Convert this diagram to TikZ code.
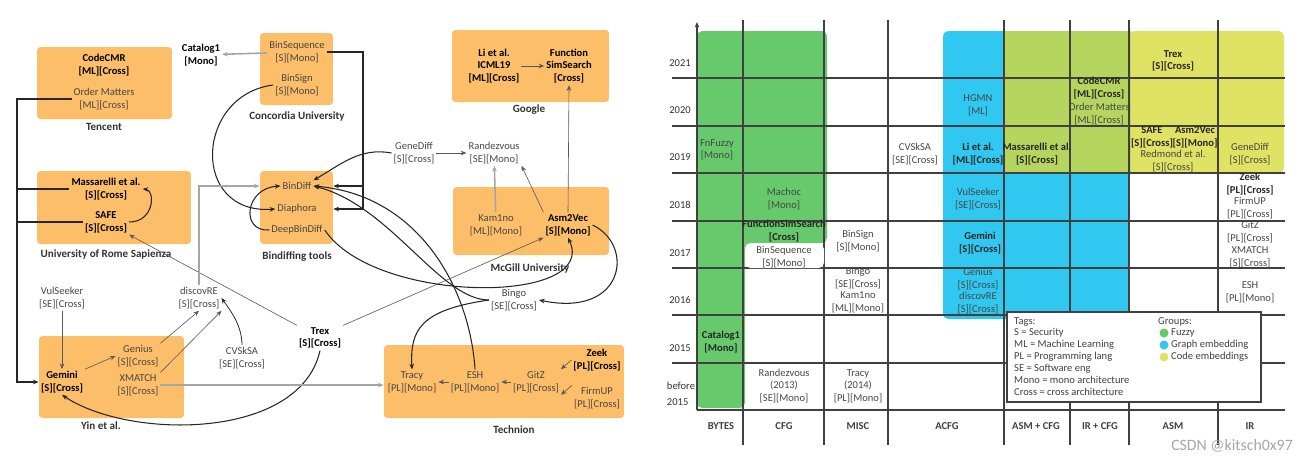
\documentclass[tikz,border=0pt]{standalone}
\usepackage{fontspec}
\setmainfont{Carlito}
\usetikzlibrary{arrows.meta, positioning}

\definecolor{grporange}{RGB}{253,190,106}
\definecolor{fuzzygreen}{RGB}{102,201,108}
\definecolor{graphblue}{RGB}{48,200,240}
\definecolor{limegreen}{RGB}{182,213,94}
\definecolor{codeyellow}{RGB}{224,226,100}
\definecolor{txtgray}{RGB}{70,70,70}

\begin{document}
\begin{tikzpicture}[
    x=0.02cm, y=-0.02cm,
    font=\fontsize{6}{7.2}\selectfont,
    >={Stealth[length=3.2pt,width=2.6pt]},
    % --- styles ---
    % group boxes
    grp/.style={fill=grporange, rounded corners=2pt, inner sep=0pt},
    grplabel/.style={font=\fontsize{6.3}{7.4}\selectfont\bfseries, text=black!80},
    % tool labels
    tool/.style={align=center, text=txtgray, inner sep=1pt},
    btool/.style={tool, font=\fontsize{6}{7.2}\selectfont\bfseries, text=black},
    % connectors
    edge/.style={->, black!85, line width=0.6pt},
    thinedge/.style={->, black!65, line width=0.35pt},
    gedge/.style={->, black!35, line width=0.9pt},
    % chart
    grid/.style={black!75, line width=0.6pt},
    cell/.style={align=center, text=txtgray, inner sep=0.5pt},
    bcell/.style={cell, font=\fontsize{6}{7.2}\selectfont\bfseries, text=black!85},
    axislabel/.style={font=\fontsize{6}{7.2}\selectfont\bfseries, text=black!75}
]
\useasboundingbox (0,0) rectangle (1304,461);

% --- 1. Group boxes ---
\node[grp, minimum width=2.70cm, minimum height=1.44cm] (tencent)   at (104.5,83)  {};
\node[grp, minimum width=1.46cm, minimum height=1.44cm] (concordia) at (296.5,69)  {};
\node[grp, minimum width=3.14cm, minimum height=1.44cm] (google)    at (530.5,66)  {};
\node[grp, minimum width=3.08cm, minimum height=1.46cm] (rome)      at (114,207.5) {};
\node[grp, minimum width=1.46cm, minimum height=1.46cm] (bdtools)   at (296.5,207.5) {};
\node[grp, minimum width=3.12cm, minimum height=1.36cm] (mcgill)    at (531,221)   {};
\node[grp, minimum width=2.90cm, minimum height=1.64cm] (yin)       at (111.5,377) {};
\node[grp, minimum width=4.80cm, minimum height=1.46cm] (technion)  at (504,381.5) {};

\node[grplabel] at (104,127) {Tencent};
\node[grplabel] at (297,116) {Concordia University};
\node[grplabel] at (529,110) {Google};
\node[grplabel] at (106,254) {University of Rome Sapienza};
\node[grplabel] at (297,257) {Bindiffing tools};
\node[grplabel] at (530,268) {McGill University};
\node[grplabel] at (101,426) {Yin et al.};
\node[grplabel] at (514,430) {Technion};

% --- 2. Tools ---
\node[btool] (codecmr)  at (104,65)  {CodeCMR\\{}[ML][Cross]};
\node[tool]  (ordermat) at (104,99)  {Order Matters\\{}[ML][Cross]};
\node[btool] (catalog)  at (201,55)  {Catalog1\\{}[Mono]};
\node[tool]  (binseq)   at (297,52)  {BinSequence\\{}[S][Mono]};
\node[tool]  (binsign)  at (297,85)  {BinSign\\{}[S][Mono]};
\node[btool] (liet)     at (494,66)  {Li et al.\\ICML19\\{}[ML][Cross]};
\node[btool] (funcsim)  at (569,66)  {Function\\SimSearch\\{}[Cross]};
\node[tool]  (genediff) at (414,153) {GeneDiff\\{}[S][Cross]};
\node[tool]  (randez)   at (494,153) {Randezvous\\{}[SE][Mono]};
\node[btool] (massa)    at (106,189) {Massarelli et al.\\{}[S][Cross]};
\node[btool] (safe)     at (106,222) {SAFE\\{}[S][Cross]};
\node[tool]  (bindiff)  at (297,186) {BinDiff};
\node[tool]  (diaphora) at (297,209) {Diaphora};
\node[tool]  (deepbd)   at (297,230) {DeepBinDiff};
\node[tool]  (kam1no)   at (496,225) {Kam1no\\{}[ML][Mono]};
\node[btool] (asm2vec)  at (568,225) {Asm2Vec\\{}[S][Mono]};
\node[tool]  (vulseek)  at (62,298)  {VulSeeker\\{}[SE][Cross]};
\node[tool]  (discovre) at (199,298) {discovRE\\{}[S][Cross]};
\node[tool]  (cvsksa)   at (242,358) {CVSkSA\\{}[SE][Cross]};
\node[btool] (trex)     at (320,338) {Trex\\{}[S][Cross]};
\node[tool]  (bingo)    at (514,300) {Bingo\\{}[SE][Cross]};
\node[btool] (gemini)   at (62,382)  {Gemini\\{}[S][Cross]};
\node[tool]  (genius)   at (138,356) {Genius\\{}[S][Cross]};
\node[tool]  (xmatch)   at (138,385) {XMATCH\\{}[S][Cross]};
\node[tool]  (tracy)    at (412,382) {Tracy\\{}[PL][Mono]};
\node[tool]  (esh)      at (475,382) {ESH\\{}[PL][Mono]};
\node[tool]  (gitz)     at (536,382) {GitZ\\{}[PL][Cross]};
\node[btool] (zeek)     at (597,360) {Zeek\\{}[PL][Cross]};
\node[tool]  (firmup)   at (597,398) {FirmUP\\{}[PL][Cross]};

\coordinate (rail) at (17,99);
\coordinate (bdrail) at (363,56);

% --- 3. Connectors ---
\draw[gedge] (binseq) -- (catalog);
\draw[edge] (binseq.east) -- (binseq.east -| bdrail) |- (bindiff.east -| bdtools.east);
\draw[edge] (bindiff.east -| bdrail) |- (diaphora.east -| bdtools.east);
\draw[edge] (binsign.west) .. controls (195,95) and (190,215) .. (diaphora.west);
\draw[edge] (deepbd.west) .. controls (240,232) and (245,188) .. (bindiff.west);
\draw[edge] (ordermat.west) -- (ordermat.west -| rail) |- (gemini.west -| yin.west);
\draw[edge, -] (massa.west) -- (massa.west -| rail);
\draw[edge, -] (safe.west) -- (safe.west -| rail);
\draw[edge] (safe.east) .. controls (155,222) and (155,190) .. (massa.east);
\draw[thinedge] (trex.north west) -- (safe.south east);
\draw[thinedge] (trex.north east) -- (asm2vec.south west);
\draw[edge] (trex.south) .. controls (300,440) and (130,440) .. (gemini.south);
\draw[gedge, line width=0.6pt] (discovre.north) |- (bindiff.west -| bdtools.west);
\draw[edge] (genediff.west) .. controls (360,147) and (340,165) .. (bindiff.north east);
\draw[thinedge] (genediff) -- (randez);
\draw[gedge] (kam1no) -- (randez);
\draw[thinedge] (asm2vec.north west) -- (randez.south east);
\draw[thinedge] (asm2vec.north) -- (funcsim.south);
\draw[thinedge] (liet) -- (funcsim);
\draw[edge] (deepbd.east) .. controls (375,305) and (600,305) .. (asm2vec.south);
\draw[edge] (asm2vec.east) .. controls (635,245) and (625,318) .. (bingo.east);
\draw[edge] (bingo.west) .. controls (440,300) and (390,205) .. (bindiff.east);
\draw[edge] (esh.north) .. controls (470,290) and (420,195) .. (bindiff.east);
\draw[edge] (bingo.west) .. controls (420,310) and (410,330) .. (tracy.north);
\draw[thinedge] (vulseek) -- (gemini);
\draw[thinedge] (gemini.north east) -- (genius.west);
\draw[thinedge] (genius.north east) -- (discovre.south);
\draw[thinedge] (xmatch.north east) -- (discovre.south east);
\draw[edge, line width=0.45pt] (cvsksa.north) .. controls (242,325) and (230,310) .. (discovre.east);
\draw[gedge] (xmatch.east) -- (xmatch.east -| technion.west);
\draw[thinedge] (gitz) -- (esh);
\draw[thinedge] (esh) -- (tracy);
\draw[thinedge] (zeek.west) -- (gitz.north east);
\draw[thinedge] (firmup.north west) -- (gitz.south east);

% --- 4. Chart: groups ---
\fill[fuzzygreen, rounded corners=3pt] (697,31) -- (827,31) -- (827,243) -- (745,243) -- (745,408) -- (697,408) -- cycle;
\fill[graphblue, rounded corners=3pt] (943,31) rectangle (1129,319);
\fill[limegreen] (1004,31) rectangle (1129,173);
\fill[codeyellow, rounded corners=3pt] (1129,31) rectangle (1284,173);
\fill[limegreen] (1129,31) rectangle (1131,173);

% --- 5. Chart: grid and axes ---
\foreach \y in {78,126,173,221,268,315,363}
    \draw[grid] (672,\y) -- (1285,\y);
\foreach \x in {743,824,888,1004,1070,1129,1218}
    \draw[grid] (\x,20) -- (\x,445);
\draw[grid, ->] (697,410) -- (697,22);
\draw[grid] (697,410) -- (1285,410);

\foreach \yr/\y in {2021/63, 2020/110, 2019/157, 2018/205, 2017/253, 2016/300, 2015/348}
    \node[text=black!80] at (680,\y) {\yr};
\node[text=black!80, align=left] at (681,394) {before\\[2pt]2015};

\foreach \lab/\x in {BYTES/721, CFG/784, MISC/858, ACFG/947, ASM + CFG/1036, IR + CFG/1100, ASM/1173, IR/1250}
    \node[axislabel] at (\x,426) {\lab};

% --- 6. Chart: entries ---
\node[cell]  (cfnfuzzy) at (717,150) {FnFuzzy\\{}[Mono]};
\node[cell]  (cmachoc)  at (784,199) {Machoc\\{}[Mono]};
\node[bcell] (cfss)     at (784,231) {FunctionSimSearch\\{}[Cross]};
\fill[white, rounded corners=3pt] (745,244) rectangle (824,268);
\node[cell]  (cbinseq)  at (784,257) {BinSequence\\{}[S][Mono]};
\node[bcell] (ccatalog) at (721,342) {Catalog1\\{}[Mono]};
\node[cell]  (crandez)  at (784,386) {Randezvous\\(2013)\\{}[SE][Mono]};
\node[cell]  (cbinsign) at (858,241) {BinSign\\{}[S][Mono]};
\node[cell]  (cbingo)   at (858,278) {Bingo\\{}[SE][Cross]};
\node[cell]  (ckam1no)  at (858,302) {Kam1no\\{}[ML][Mono]};
\node[cell]  (ctracy)   at (858,386) {Tracy\\(2014)\\{}[PL][Mono]};
\node[cell]  (ccvsksa)  at (915,154) {CVSkSA\\{}[SE][Cross]};
\node[cell]  (chgmn)    at (978,105) {HGMN\\{}[ML]};
\node[bcell] (cliet)    at (978,154) {Li et al.\\{}[ML][Cross]};
\node[cell]  (cvulseek) at (978,199) {VulSeeker\\{}[SE][Cross]};
\node[bcell] (cgemini)  at (980,243) {Gemini\\{}[S][Cross]};
\node[cell]  (cgenius)  at (978,279) {Genius\\{}[S][Cross]};
\node[cell]  (cdiscov)  at (978,303) {discovRE\\{}[S][Cross]};
\node[bcell] (cmassa)   at (1037,154) {Massarelli et al.\\{}[S][Cross]};
\node[bcell] (ccodecmr) at (1099,88) {CodeCMR\\{}[ML][Cross]};
\node[cell]  (corder)   at (1099,114) {Order Matters\\{}[ML][Cross]};
\node[bcell] (ctrex)    at (1173,61) {Trex\\{}[S][Cross]};
\node[bcell] (csafe)    at (1152,137) {SAFE\\{}[S][Cross]};
\node[bcell] (casm2vec) at (1195,137) {Asm2Vec\\{}[S][Mono]};
\node[cell]  (credmond) at (1173,161) {Redmond et al.\\{}[S][Cross]};
\node[cell]  (cgenediff) at (1250,154) {GeneDiff\\{}[S][Cross]};
\node[bcell] (czeek)    at (1250,184) {Zeek\\{}[PL][Cross]};
\node[cell]  (cfirmup)  at (1250,208) {FirmUP\\{}[PL][Cross]};
\node[cell]  (cgitz)    at (1250,232) {GitZ\\{}[PL][Cross]};
\node[cell]  (cxmatch)  at (1250,257) {XMATCH\\{}[S][Cross]};
\node[cell]  (cesh)     at (1250,292) {ESH\\{}[PL][Mono]};

% --- 7. Legend ---
\draw[fill=white, draw=black!75, line width=0.7pt] (1007,312) rectangle (1261,402);
\node[cell, anchor=north west, align=left, text=black!75, font=\fontsize{6}{6.8}\selectfont] (tags) at (1013,316)
    {Tags:\\S = Security\\ML = Machine Learning\\PL = Programming lang\\SE = Software eng\\Mono = mono architecture\\Cross = cross architecture};
\node[cell, anchor=north west, align=left, text=black!75] (groups) at (1157,316) {Groups:};
\foreach \col/\lab/\y in {fuzzygreen/Fuzzy/333, graphblue/Graph embedding/345, codeyellow/Code embeddings/357} {
    \fill[\col] (1164,\y) circle (4.5);
    \node[cell, anchor=west, text=black!75] at (1170,\y) {\lab};
}

% --- 8. Watermark ---
\node[text=black!35, font=\fontsize{9}{10}\selectfont] at (1232,446) {CSDN @kitsch0x97};
\end{tikzpicture}
\end{document}
